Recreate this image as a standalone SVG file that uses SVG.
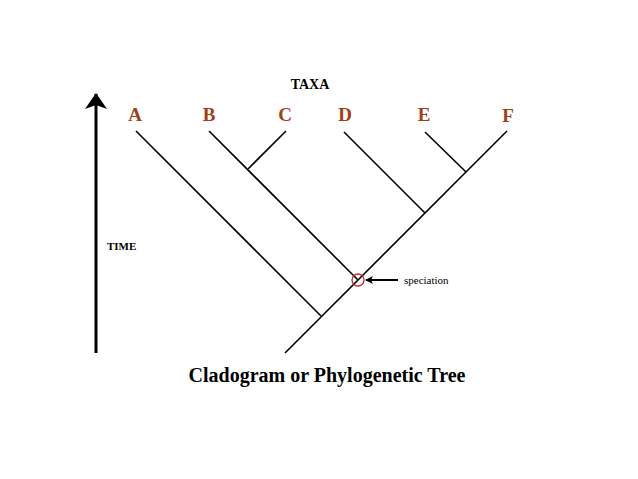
<svg xmlns="http://www.w3.org/2000/svg" width="638" height="479" viewBox="0 0 638 479">
<style>
.l{stroke:#000;stroke-width:1.6;fill:none}
.t{font-family:"Liberation Serif",serif;font-weight:bold}
.tx{fill:#a0401a;font-size:19px}
</style>
<defs><marker id="ah" markerWidth="8" markerHeight="8" refX="7" refY="4" orient="auto" markerUnits="userSpaceOnUse"><path d="M0,0L8,4L0,8L2,4Z" fill="#000"/></marker>
<marker id="ah2" markerWidth="16" markerHeight="22" refX="15" refY="11" orient="auto" markerUnits="userSpaceOnUse"><path d="M0,0L16,11L0,22L4,11Z" fill="#000"/></marker></defs>
<rect width="638" height="479" fill="#fff"/>
<g id="connectors">
<line class="l" x1="285" y1="353" x2="507" y2="131"/>
<line class="l" x1="136" y1="131" x2="321" y2="316"/>
<line class="l" x1="209" y1="131" x2="358" y2="280"/>
<line class="l" x1="286" y1="131" x2="248" y2="169"/>
<line class="l" x1="344" y1="132" x2="425" y2="213"/>
<line class="l" x1="425" y1="132" x2="466" y2="172"/>
<line stroke="#000" stroke-width="3" x1="96" y1="353" x2="96" y2="94" marker-end="url(#ah2)"/>
<line stroke="#000" stroke-width="2" x1="398" y1="280" x2="366" y2="280" marker-end="url(#ah)"/>
</g>
<g id="speciation"><circle cx="358" cy="280" r="6" fill="none" stroke="#c0282a" stroke-width="1.3"/>
<text x="404" y="284" font-family="Liberation Serif,serif" font-size="11">speciation</text></g>
<g id="labels">
<text class="t" x="310" y="89" font-size="14" text-anchor="middle">TAXA</text>
<text class="t" x="107" y="250" font-size="11">TIME</text>
<text class="t tx" x="135" y="121" text-anchor="middle">A</text>
<text class="t tx" x="209" y="121" text-anchor="middle">B</text>
<text class="t tx" x="285" y="121" text-anchor="middle">C</text>
<text class="t tx" x="345" y="121" text-anchor="middle">D</text>
<text class="t tx" x="424" y="121" text-anchor="middle">E</text>
<text class="t tx" x="508" y="122" text-anchor="middle">F</text>
<text class="t" x="327" y="382" font-size="20" text-anchor="middle">Cladogram or Phylogenetic Tree</text>
</g>
</svg>
